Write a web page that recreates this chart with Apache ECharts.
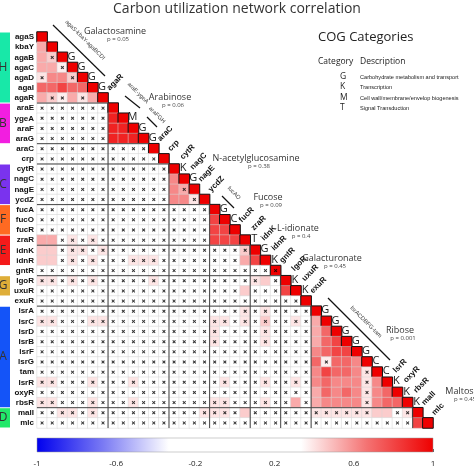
<!DOCTYPE html>
<html>
<head>
<meta charset="utf-8">
<script src="https://cdn.jsdelivr.net/npm/echarts@6/dist/echarts.min.js"></script>
<style>html,body{margin:0;padding:0;background:#fff}#chart{width:474px;height:472px}</style>
</head>
<body>
<div id="chart"></div>
<script>
// genes, in matrix order
var genes = ['agaS','kbaY','agaB','agaC','agaD','agaI','agaR','araE','ygeA','araF','araG','araC','crp',
  'cytR','nagC','nagE','ycdZ','fucA','fucO','fucR','zraR','idnK','idnR','gntR','lgoR','uxuR','exuR',
  'lsrA','lsrC','lsrD','lsrB','lsrF','lsrG','tam','lsrR','oxyR','rbsR','malI','mlc'];

// lower triangle, one string per row (columns 0..row-1)
// digit d = d/10 ; a..i = 0.1..0.9 not significant (x) ; '.' = 0 (x) ; '-' = -0.15 (x)
var rows = [
  '',
  '5',
  '5d',
  '55b',
  'c66d',
  '77877',
  '5db5c5',
  '.......',
  '.......9',
  '.......99',
  '.......999',
  '...........',
  '............',
  '.............',
  '.............6',
  '.............6e',
  '.............66c',
  '.................',
  '.................8',
  '.................88',
  '55.c.c.' + '......' + '....' + '888',
  '44.cc.c' + '......' + '....' + '...d',
  '44.c.c.' + '..ccc.' + '....' + '...5' + '8',
  '.......' + '......' + '....' + '....' + '...',
  'cc.c.c.' + '....c.' + '....' + '....' + 'c4' + '.',
  '.......' + '......' + '-...' + '...4' + '...' + '8',
  '.......' + '......' + '....' + '....' + '...' + '..',
  '.......' + '......' + '....' + '...c' + '.c.' + '...',
  'cc...cc' + '......' + '....' + 'cc.c' + '.d.' + '.c.' + '5',
  '.......' + '......' + '....' + 'c...' + '.c.' + '...' + '57',
  '.......' + '......' + '....' + 'c...' + '.c.' + '...' + '578',
  '.......' + '......' + '....' + '....' + '...' + '...' + '6788',
  '.......' + '......' + '....' + '....' + '...' + '...' + '7b776',
  '.......' + '......' + '....' + '....' + '...' + '...' + '68776c',
  'cc...c.' + '..c...' + '....' + '.c..' + '.c.' + '.c.' + '67666c6',
  '.......' + '......' + '....' + '....' + '...' + '...' + '57676c67',
  'cc...c.' + '..c...' + '....' + 'cc..' + '.c.' + '.5.' + '56666c677',
  '..cc.c.' + '......' + '...c' + 'cc.4' + '...' + '...' + 'cccccc44.c',
  '.......' + '......' + '....' + '....' + '...' + '...' + '..........' + '8'
];

// COG letter shown beside the diagonal cell
var cog = {agaB:'G',agaC:'G',agaD:'G',agaI:'G',ygeA:'M',araF:'G',araG:'G',cytR:'K',nagC:'G',
  fucA:'G',fucO:'C',zraR:'T',idnK:'G',idnR:'K',lgoR:'K',uxuR:'K',lsrA:'G',lsrC:'G',lsrD:'G',
  lsrB:'G',lsrF:'G',lsrG:'C',tam:'C',lsrR:'K',oxyR:'K',rbsR:'K'};
var diagLabels = ['agaR','araC','crp','cytR','nagC','nagE','ycdZ','fucR','zraR','idnK','idnR','gntR',
  'lgoR','uxuR','exuR','lsrR','oxyR','rbsR','malI','mlc'];
var blockStarts = [7, 11, 13, 17, 21, 24, 27, 37];
var groups = [
  {name:'H', from:0, to:6, color:'#18e8a8'},
  {name:'B', from:7, to:10, color:'#f21ee0'},
  {name:'C', from:13, to:16, color:'#7a33ee'},
  {name:'F', from:17, to:19, color:'#ff6a22'},
  {name:'E', from:20, to:22, color:'#f41a1a'},
  {name:'G', from:24, to:25, color:'#dfae38'},
  {name:'A', from:27, to:36, color:'#1454f8'},
  {name:'D', from:37, to:38, color:'#22e86a'}
];
var annotations = [
  {t:'Galactosamine', p:'p = 0.05', x:115, y:31},
  {t:'Arabinose', p:'p = 0.06', x:170, y:97},
  {t:'N-acetylglucosamine', p:'p = 0.38', x:256, y:158},
  {t:'Fucose', p:'p = 0.09', x:268, y:197},
  {t:'L-idionate', p:'p = 0.4', x:298, y:228},
  {t:'Galacturonate', p:'p = 0.45', x:332, y:258},
  {t:'Ribose', p:'p = 0.001', x:400, y:330},
  {t:'Maltose', p:'p = 0.45', x:462, y:391}
];
var operons = [
  {t:'agaS-kbaY-agaBCDI', x1:53, y1:25, x2:105, y2:76, tx:85, ty:40},
  {t:'araE-ygeA', x1:125, y1:96, x2:140, y2:108, tx:138, ty:93},
  {t:'araFGH', x1:147, y1:117, x2:157, y2:127, tx:157, ty:115},
  {t:'fucAO', x1:222, y1:196, x2:234, y2:208, tx:234, ty:193},
  {t:'lsrACDBFG-tam', x1:328, y1:298, x2:390, y2:360, tx:366, ty:322}
];
var cogLetters = ['G', 'K', 'M', 'T'];
var cogDesc = ['Carbohydrate metabolism and transport', 'Transcription',
  'Cell wall/membrane/envelop biogenesis', 'Signal Transduction'];

var X0 = 37, Y0 = 32, SIZE = 396, N = genes.length, CW = SIZE / N;

var cells = [], crosses = [];
rows.forEach(function (s, r) {
  for (var c = 0; c < s.length; c++) {
    var ch = s[c], v, x = true;
    if (ch >= '0' && ch <= '9') { v = +ch / 10; x = false; }
    else if (ch === '.') v = 0;
    else if (ch === '-') v = -0.15;
    else v = (ch.charCodeAt(0) - 96) / 10;
    cells.push([c, r, v]);
    if (x) crosses.push([c, r]);
  }
  cells.push({value: [r, r, 1], itemStyle: {borderColor: '#111', borderWidth: 1}});
});

var chart = echarts.init(document.getElementById('chart'));
var gr = [];
function px(c) { return X0 + c * CW; }
function py(r) { return Y0 + r * CW; }

// title and COG table
gr.push({type:'text', left:'center', top:2, style:{text:'Carbon utilization network correlation', fontSize:14, fill:'#333', fontFamily:'Open Sans'}});
gr.push({type:'text', x:318, y:31, style:{text:'COG Categories', fontSize:13, fill:'#222', fontFamily:'Open Sans'}});
gr.push({type:'text', x:318, y:57, style:{text:'Category', fontSize:8.5, fill:'#222', fontFamily:'Open Sans'}});
gr.push({type:'text', x:360, y:57, style:{text:'Description', fontSize:8.5, fill:'#222', fontFamily:'Open Sans'}});
cogLetters.forEach(function (l, i) {
  gr.push({type:'text', x:340, y:72 + i * 10.5, style:{text:l, fontSize:8.5, fill:'#222', fontFamily:'Open Sans'}});
  gr.push({type:'text', x:360, y:74 + i * 10.5, style:{text:cogDesc[i], fontSize:5.6, fill:'#222', fontFamily:'Liberation Sans'}});
});

// group boxes on the left
groups.forEach(function (g) {
  gr.push({type:'rect', shape:{x:-4, y:py(g.from) + 0.5, width:14, height:(g.to - g.from + 1) * CW - 1}, style:{fill:g.color}});
  gr.push({type:'text', x:3, y:py((g.from + g.to + 1) / 2), style:{text:g.name, fontSize:12, fill:'#333', textAlign:'center', textVerticalAlign:'middle', fontFamily:'Open Sans'}});
});

// block separators
blockStarts.forEach(function (b) {
  gr.push({type:'line', shape:{x1:X0, y1:py(b), x2:px(b), y2:py(b)}, style:{stroke:'#444', lineWidth:1}, z:10});
  if (b !== 11) gr.push({type:'line', shape:{x1:px(b), y1:py(b), x2:px(b), y2:py(N)}, style:{stroke:'#444', lineWidth:1}, z:10});
});

// COG letters and gene names along the diagonal
genes.forEach(function (g, i) {
  if (cog[g]) gr.push({type:'text', x:px(i + 1) + 4, y:py(i) + CW / 2 - 1, style:{text:cog[g], fontSize:11, fill:'#222', textAlign:'center', textVerticalAlign:'middle', fontFamily:'Open Sans'}, z:12});
  if (diagLabels.indexOf(g) >= 0) {
    var off = cog[g] ? 5 : 3;
    gr.push({type:'text', x:px(i + 1) + off, y:py(i) - off + 2, rotation:Math.PI / 4, originX:0, originY:0,
      style:{text:g, fontSize:8, fontWeight:'bold', fill:'#111', textAlign:'left', textVerticalAlign:'bottom', fontFamily:'Liberation Sans'}, z:12});
  }
});

annotations.forEach(function (a) {
  gr.push({type:'text', x:a.x, y:a.y, style:{text:a.t, fontSize:9, fill:'#333', textAlign:'center', textVerticalAlign:'middle', fontFamily:'Open Sans'}});
  gr.push({type:'text', x:a.x + 3, y:a.y + 8.5, style:{text:a.p, fontSize:6, fill:'#444', textAlign:'center', textVerticalAlign:'middle', fontFamily:'Open Sans'}});
});
operons.forEach(function (o) {
  gr.push({type:'line', shape:{x1:o.x1, y1:o.y1, x2:o.x2, y2:o.y2}, style:{stroke:'#111', lineWidth:1.2}});
  gr.push({type:'text', x:o.tx, y:o.ty, rotation:-Math.PI / 4, style:{text:o.t, fontSize:5.8, fill:'#444', textAlign:'center', textVerticalAlign:'middle', fontFamily:'Liberation Sans'}});
});

// colour bar
gr.push({type:'rect', shape:{x:X0, y:438, width:SIZE, height:14}, z:1,
  style:{stroke:'#999', lineWidth:0.5, fill:new echarts.graphic.LinearGradient(0, 0, 1, 0, [
    {offset:0, color:'#0000ee'}, {offset:0.167, color:'#7a7af4'}, {offset:0.333, color:'#ffffff'},
    {offset:0.667, color:'#ffffff'}, {offset:0.833, color:'#f47272'}, {offset:1, color:'#ee0000'}])}});

chart.setOption({
  animation: false,
  grid: [
    {left:X0, top:Y0, width:SIZE, height:SIZE},
    {left:X0, top:438, width:SIZE, height:14}
  ],
  xAxis: [
    {type:'category', data:genes, gridIndex:0, show:false},
    {type:'value', gridIndex:1, min:-1, max:1, interval:0.4, splitLine:{show:false},
     axisLine:{show:false}, axisTick:{show:true, inside:true, length:3, lineStyle:{color:'#555'}},
     axisLabel:{fontSize:8, color:'#222', margin:8, fontFamily:'Open Sans'}}
  ],
  yAxis: [
    {type:'category', data:genes, inverse:true, gridIndex:0, axisLine:{show:false}, axisTick:{show:false},
     axisLabel:{interval:0, fontSize:8, color:'#111', fontWeight:'bold', margin:3, fontFamily:'Liberation Sans'}},
    {type:'value', gridIndex:1, show:false}
  ],
  visualMap: {show:false, min:-1, max:1, seriesIndex:0, dimension:2,
    inRange:{color:['#0000ee','#7a7af4','#ffffff','#ffffff','#fde2e2','#f47272','#ee0000']}},
  series: [
    {type:'heatmap', data:cells, itemStyle:{borderColor:'#d4d4d4', borderWidth:0.5}},
    {type:'scatter', data:crosses, symbol:'path://M0 2L2 0L5 3L8 0L10 2L7 5L10 8L8 10L5 7L2 10L0 8L3 5Z',
     symbolSize:3.5, itemStyle:{color:'#000'}, z:5}
  ],
  graphic: gr
});
</script>
</body>
</html>
